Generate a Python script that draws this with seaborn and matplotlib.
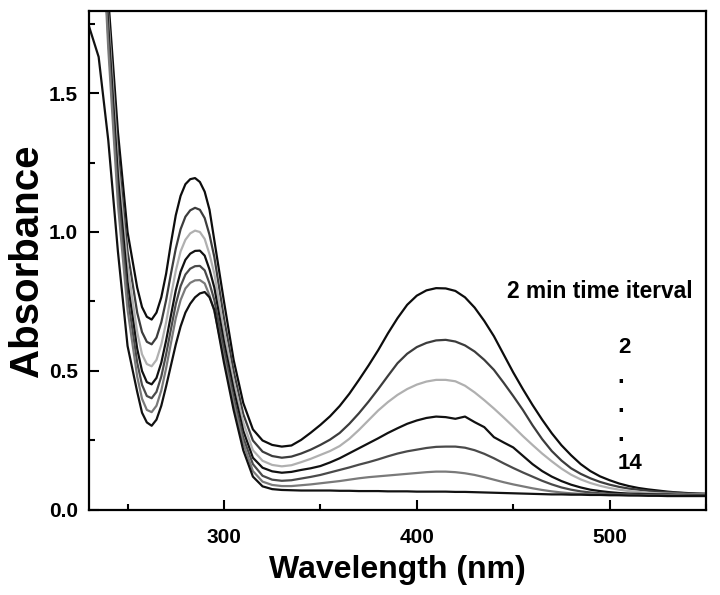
import numpy as np
import pandas as pd
import matplotlib
matplotlib.use("Agg")
import matplotlib.pyplot as plt
import seaborn as sns
from matplotlib.ticker import MultipleLocator

sns.set_style("white")
plt.rcParams['font.family'] = ['Liberation Sans', 'DejaVu Sans']
plt.rcParams['font.weight'] = 'bold'
plt.rcParams['text.color'] = 'black'
plt.rcParams['axes.labelcolor'] = 'black'
plt.rcParams['xtick.color'] = 'black'
plt.rcParams['ytick.color'] = 'black'

# longitud de onda (nm)
wl = [230, 235, 240, 245, 250, 255,
      257.5, 260, 262.5, 265, 267.5, 270, 272.5, 275, 277.5, 280, 282.5, 285, 287.5, 290, 292.5,
      295, 300, 305, 310, 315, 320, 325, 330, 335, 340,
      345, 350, 355, 360, 365, 370, 375, 380, 385, 390, 395, 400, 405, 410, 415, 420, 425, 430,
      435, 440, 445, 450, 455, 460, 465, 470, 475, 480, 485, 490, 495, 500, 505, 510, 515, 520,
      525, 530, 535, 540, 545, 550]

# absorbancia, un espectro cada 2 min
abs_2 = [2.70, 2.28, 1.84, 1.36, 1.00, 0.80,
         0.73, 0.695, 0.685, 0.71, 0.765, 0.85, 0.96, 1.06, 1.13, 1.172, 1.19, 1.194, 1.18, 1.145, 1.08,
         0.97, 0.75, 0.54, 0.385, 0.29, 0.25, 0.234, 0.228, 0.232, 0.252,
         0.278, 0.306, 0.337, 0.374, 0.418, 0.468, 0.52, 0.575, 0.635, 0.69, 0.738, 0.771, 0.79, 0.798,
         0.797, 0.788, 0.765, 0.728, 0.68, 0.625, 0.56, 0.495, 0.435, 0.378, 0.325, 0.276, 0.233,
         0.197, 0.165, 0.14, 0.121, 0.107, 0.095, 0.086, 0.079, 0.074, 0.07, 0.066, 0.063, 0.061,
         0.059, 0.058]
abs_4 = [2.80, 2.30, 1.78, 1.29, 0.93, 0.71,
         0.64, 0.605, 0.596, 0.62, 0.675, 0.755, 0.85, 0.94, 1.01, 1.055, 1.078, 1.087, 1.08, 1.05, 0.99,
         0.91, 0.69, 0.50, 0.345, 0.25, 0.21, 0.194, 0.188, 0.192, 0.203,
         0.217, 0.234, 0.253, 0.277, 0.31, 0.348, 0.39, 0.435, 0.482, 0.528, 0.562, 0.586, 0.601, 0.61,
         0.612, 0.606, 0.592, 0.57, 0.54, 0.504, 0.458, 0.41, 0.36, 0.305, 0.255, 0.212, 0.178,
         0.15, 0.13, 0.114, 0.101, 0.091, 0.083, 0.077, 0.073, 0.069, 0.066, 0.064, 0.062, 0.06,
         0.059, 0.058]
abs_6 = [2.90, 2.35, 1.77, 1.25, 0.88, 0.64,
         0.56, 0.525, 0.517, 0.54, 0.595, 0.675, 0.77, 0.86, 0.93, 0.972, 0.995, 1.005, 1.0, 0.975, 0.92,
         0.85, 0.645, 0.465, 0.315, 0.215, 0.177, 0.162, 0.157, 0.161, 0.172,
         0.184, 0.198, 0.212, 0.23, 0.256, 0.288, 0.323, 0.358, 0.388, 0.414, 0.435, 0.451, 0.462, 0.468,
         0.468, 0.463, 0.447, 0.423, 0.395, 0.365, 0.333, 0.3, 0.266, 0.234, 0.203, 0.175, 0.149,
         0.127, 0.11, 0.097, 0.087, 0.079, 0.073, 0.068, 0.065, 0.062, 0.06, 0.059, 0.058, 0.057,
         0.056, 0.056]
abs_8 = [2.95, 2.35, 1.74, 1.20, 0.82, 0.58,
         0.50, 0.46, 0.452, 0.475, 0.53, 0.61, 0.70, 0.79, 0.857, 0.9, 0.922, 0.932, 0.933, 0.915, 0.865,
         0.80, 0.605, 0.435, 0.285, 0.188, 0.152, 0.139, 0.134, 0.137, 0.144,
         0.15, 0.158, 0.171, 0.186, 0.204, 0.222, 0.24, 0.258, 0.277, 0.294, 0.31, 0.322, 0.331, 0.336,
         0.334, 0.328, 0.336, 0.316, 0.298, 0.262, 0.243, 0.225, 0.195, 0.165, 0.14, 0.12, 0.104,
         0.091, 0.081, 0.073, 0.068, 0.064, 0.061, 0.059, 0.058, 0.057, 0.056, 0.056, 0.055, 0.055,
         0.054, 0.054]
abs_10 = [3.0, 2.35, 1.70, 1.15, 0.77, 0.53,
          0.45, 0.41, 0.402, 0.425, 0.48, 0.56, 0.65, 0.74, 0.805, 0.847, 0.868, 0.877, 0.878, 0.862, 0.815,
          0.755, 0.575, 0.405, 0.26, 0.165, 0.123, 0.109, 0.105, 0.107, 0.113,
          0.119, 0.126, 0.135, 0.144, 0.153, 0.163, 0.172, 0.182, 0.193, 0.203, 0.211, 0.217, 0.223, 0.227,
          0.228, 0.228, 0.224, 0.215, 0.202, 0.186, 0.168, 0.151, 0.135, 0.12, 0.105, 0.092, 0.081,
          0.073, 0.067, 0.063, 0.06, 0.058, 0.057, 0.056, 0.055, 0.055, 0.054, 0.054, 0.053, 0.053,
          0.052, 0.052]
abs_12 = [3.0, 2.35, 1.66, 1.10, 0.72, 0.48,
          0.40, 0.36, 0.352, 0.375, 0.43, 0.51, 0.60, 0.69, 0.755, 0.797, 0.817, 0.826, 0.827, 0.815, 0.772,
          0.715, 0.548, 0.385, 0.24, 0.14, 0.102, 0.09, 0.086, 0.086, 0.089,
          0.092, 0.096, 0.1, 0.104, 0.109, 0.114, 0.118, 0.121, 0.124, 0.127, 0.13, 0.133, 0.136, 0.138,
          0.138, 0.136, 0.132, 0.126, 0.118, 0.109, 0.1, 0.092, 0.085, 0.078, 0.072, 0.067, 0.063,
          0.06, 0.058, 0.057, 0.056, 0.055, 0.054, 0.054, 0.053, 0.053, 0.052, 0.052, 0.052, 0.051,
          0.051, 0.051]
abs_14 = [1.74, 1.63, 1.33, 0.93, 0.59, 0.425,
          0.35, 0.315, 0.303, 0.325, 0.375, 0.445, 0.52, 0.595, 0.66, 0.71, 0.742, 0.765, 0.779, 0.784, 0.765,
          0.72, 0.53, 0.36, 0.215, 0.12, 0.085, 0.075, 0.072, 0.071, 0.07,
          0.07, 0.07, 0.07, 0.069, 0.069, 0.068, 0.068, 0.068, 0.067, 0.067, 0.067, 0.066, 0.066, 0.066,
          0.066, 0.065, 0.065, 0.064, 0.063, 0.062, 0.061, 0.06, 0.059, 0.058, 0.057, 0.056, 0.056,
          0.055, 0.055, 0.054, 0.054, 0.053, 0.053, 0.052, 0.052, 0.051, 0.051, 0.05, 0.05, 0.05,
          0.05, 0.05]

tiempos = ['2', '4', '6', '8', '10', '12', '14']
colores = ['#0d0d0d', '#3c3c3c', '#b0b0b0', '#111111', '#4a4a4a', '#7a7a7a', '#111111']

espectros = [abs_2, abs_4, abs_6, abs_8, abs_10, abs_12, abs_14]
df = pd.DataFrame({
    'wl': wl * len(espectros),
    'abs': sum(espectros, []),
    'time': [t for t in tiempos for _ in wl],
})

fig = plt.figure(figsize=(7.2, 5.95), dpi=100)
ax = fig.add_axes([0.1236, 0.1429, 0.857, 0.8386])

sns.lineplot(data=df, x='wl', y='abs', hue='time', hue_order=tiempos, palette=colores,
             estimator=None, sort=False, legend=False, linewidth=1.6, ax=ax)

ax.set_xlim(230, 550)
ax.set_ylim(0, 1.795)
ax.xaxis.set_major_locator(MultipleLocator(100))
ax.xaxis.set_minor_locator(MultipleLocator(50))
ax.yaxis.set_major_locator(MultipleLocator(0.5))
ax.yaxis.set_minor_locator(MultipleLocator(0.25))
ax.tick_params(which='both', direction='in', bottom=True, left=True, top=False, right=False,
               width=1.5, labelsize=15, colors='black')
ax.tick_params(which='major', length=7)
ax.tick_params(which='minor', length=4)
ax.tick_params(axis='x', pad=13)
ax.tick_params(axis='y', pad=8)
for lab in ax.get_xticklabels() + ax.get_yticklabels():
    lab.set_fontweight('bold')

for s in ax.spines.values():
    s.set_linewidth(1.6)
    s.set_color('black')

ax.set_xlabel('Wavelength (nm)', fontsize=23, fontweight='bold', labelpad=6)
ax.set_ylabel('Absorbance', fontsize=29, fontweight='bold', labelpad=2)

# anotaciones del intervalo de tiempo
ax.text(0.6775, 0.424, '2 min time iterval', transform=ax.transAxes, fontsize=16.4,
        fontweight='bold', ha='left', va='baseline')
ax.text(0.857, 0.314, '2', transform=ax.transAxes, fontsize=16, fontweight='bold',
        ha='left', va='baseline')
for yy in [0.254, 0.197, 0.138]:
    ax.text(0.8617, yy, '.', transform=ax.transAxes, fontsize=17, fontweight='bold',
            ha='center', va='baseline')
ax.text(0.857, 0.0815, '14', transform=ax.transAxes, fontsize=16, fontweight='bold',
        ha='left', va='baseline')

plt.savefig('out.png', dpi=100)
